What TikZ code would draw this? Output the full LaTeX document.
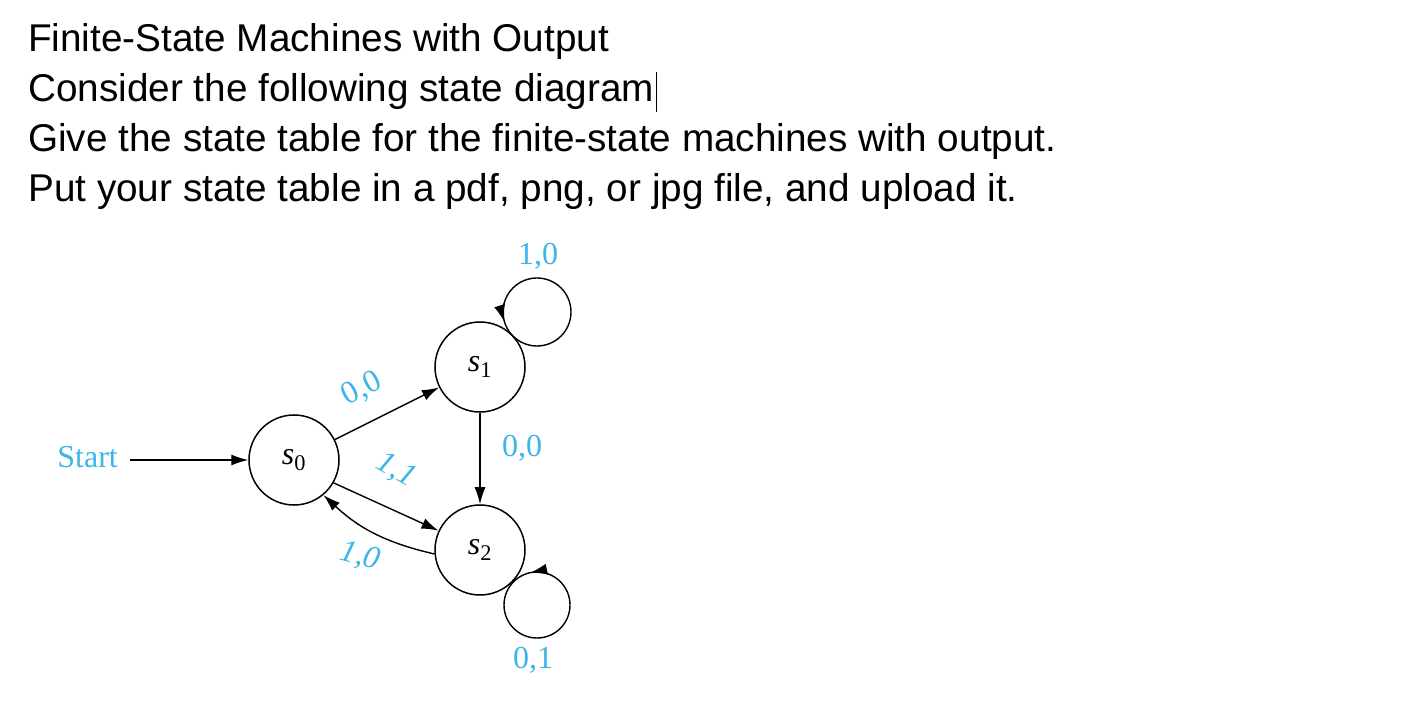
\documentclass[tikz,border=0pt]{standalone}
\usepackage{fontspec}
\setmainfont{Liberation Sans}
\newfontfamily\lblfont{Liberation Serif}
\usetikzlibrary{arrows.meta}
\definecolor{lblblue}{HTML}{3DB5E6}
\begin{document}
\begin{tikzpicture}[x=1pt,y=1pt,
  st/.style={draw,circle,line width=1.5pt,minimum size=90pt,inner sep=0pt,font=\lblfont\fontsize{32}{32}\selectfont\itshape},
  lbl/.style={text=lblblue,font=\lblfont\fontsize{32}{32}\selectfont,inner sep=0pt},
  edge/.style={line width=1.4pt,-{Latex[length=17pt,width=11pt]}},
  loopc/.style={line width=1.4pt},
  hd/.style={anchor=base west,inner sep=0pt,font=\fontsize{38.7}{38.7}\selectfont}]
\useasboundingbox (0,0) rectangle (1408,710);
\node[hd] (t1) at (28,658) {Finite-State Machines with Output};
\node[hd] (t2) at (28,608) {Consider the following state diagram};
\draw[line width=1.3pt] (t2.east)++(2pt,-20pt) -- ++(0,40pt);
\node[hd] (t3) at (28,558) {Give the state table for the finite-state machines with output.};
\node[hd] (t4) at (28,508) {Put your state table in a pdf, png, or jpg file, and upload it.};

\node[st] (s0) at (294,250) {s\textsubscript{\upshape 0}};
\node[st] (s1) at (480,343) {s\textsubscript{\upshape 1}};
\node[st] (s2) at (480,160) {s\textsubscript{\upshape 2}};
\node[lbl,anchor=east] (start) at (118,253) {Start};
\coordinate (sa) at (130,250);
\draw[edge] (sa) -- (s0);
\draw[edge] (s0) -- (s1);
\draw[edge] (s1) -- (s2);
\draw[edge] (s0.-30) -- (s2.155);
\draw[edge] (s2.185) to[bend left=15] (s0.-50);
\coordinate (l1) at (537,398);
\coordinate (l2) at (537,105);
\draw[loopc] (l1) circle[radius=34];
\draw[edge] ([shift={(165:34)}]l1) arc[start angle=165,end angle=197,radius=34];
\draw[loopc] (l2) circle[radius=33];
\draw[edge] ([shift={(70:33)}]l2) arc[start angle=70,end angle=102,radius=33];
\node[lbl,rotate=27] (a) at (362,321) {0,0};
\node[lbl,rotate=-30] (b) at (396,240) {\itshape 1,1};
\node[lbl,rotate=-15] (c) at (360,153) {\itshape 1,0};
\node[lbl] (d) at (522,262) {0,0};
\node[lbl] (e) at (538,454) {1,0};
\node[lbl] (f) at (533,50) {0,1};
\end{tikzpicture}
\end{document}
